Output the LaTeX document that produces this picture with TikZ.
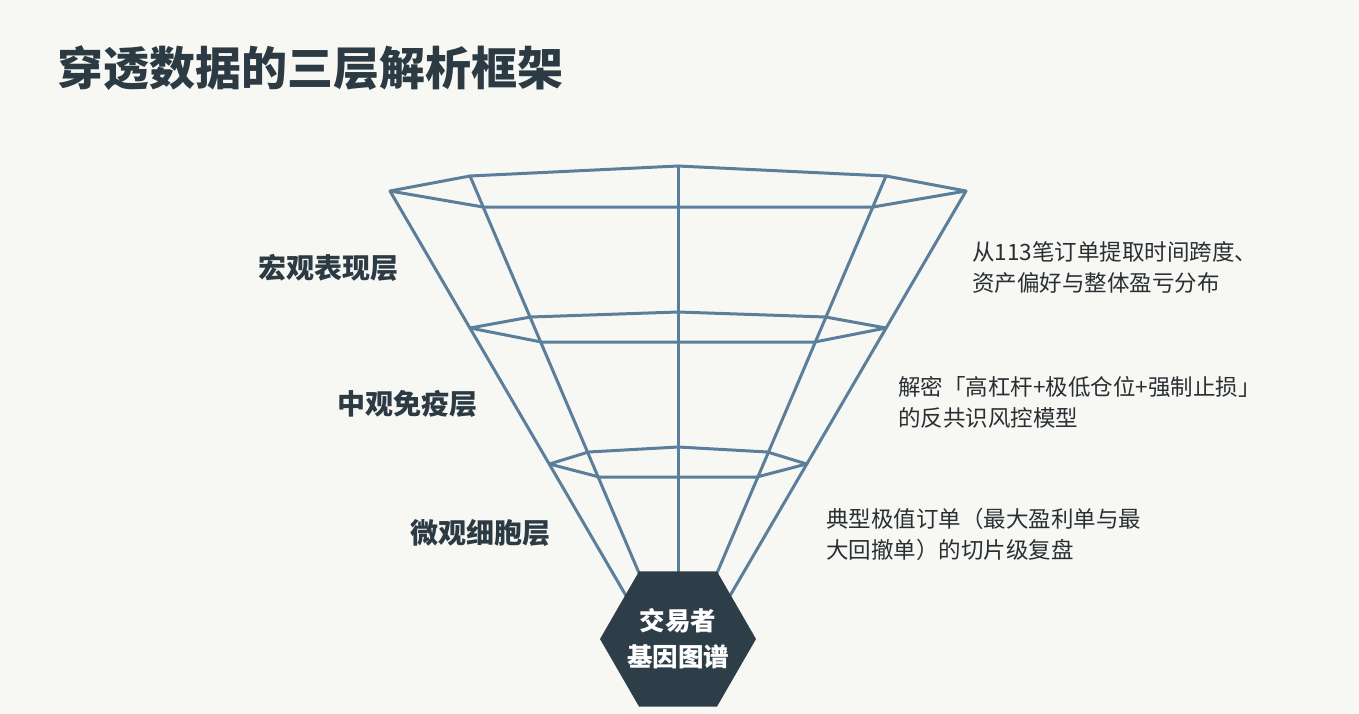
\documentclass[tikz,border=0pt]{standalone}
\usepackage{fontspec}
\setmainfont{Noto Sans CJK SC}
\usetikzlibrary{shapes.geometric}
\definecolor{bg}{HTML}{F7F8F4}
\definecolor{wire}{HTML}{5B7E9B}
\definecolor{ink}{HTML}{2C3A43}
\definecolor{desc}{HTML}{2A2F33}
\definecolor{hexfill}{HTML}{2E3E49}
\tikzset{
  wireline/.style={draw=wire,line width=3pt,line join=round,line cap=round},
  layerlabel/.style={anchor=west,inner sep=0pt,text=ink,font=\bfseries\fontsize{28}{32}\selectfont},
  desctext/.style={anchor=west,inner sep=0pt,text=desc,align=left,font=\fontsize{22.5}{31}\selectfont},
  titletext/.style={anchor=west,inner sep=0pt,text=ink,font=\bfseries\fontsize{46}{50}\selectfont},
  hexnode/.style={regular polygon,regular polygon sides=6,minimum size=156pt,inner sep=0pt,outer sep=0pt,
    fill=hexfill},
  hextext/.style={inner sep=0pt,text=white,align=center,font=\bfseries\fontsize{25.5}{36}\selectfont}
}
\begin{document}
\begin{tikzpicture}[x=1pt,y=-1pt]
\fill[bg] (0,0) rectangle (1359,714);
\useasboundingbox (0,0) rectangle (1359,714);

% top ring
\coordinate (tL) at (390,191);
\coordinate (tBL) at (470,176);
\coordinate (tBC) at (678,166);
\coordinate (tBR) at (886,176);
\coordinate (tR) at (966,191);
\coordinate (tFR) at (873,207);
\coordinate (tFC) at (678,207);
\coordinate (tFL) at (483,207);
% middle ring
\coordinate (mL) at (470,328);
\coordinate (mBL) at (530.5,317);
\coordinate (mBC) at (678,312);
\coordinate (mBR) at (825.5,317);
\coordinate (mR) at (886,328);
\coordinate (mFR) at (814.7,342);
\coordinate (mFC) at (678,342);
\coordinate (mFL) at (541.3,342);
% bottom ring
\coordinate (bL) at (549.4,464);
\coordinate (bBL) at (588.5,452);
\coordinate (bBC) at (678,447);
\coordinate (bBR) at (767.5,452);
\coordinate (bR) at (806.6,464);
\coordinate (bFR) at (756.8,477);
\coordinate (bFC) at (678,477);
\coordinate (bFL) at (599.2,477);
% ends of ribs
\coordinate (eL) at (646,630);
\coordinate (eR) at (710,630);
\coordinate (hTL) at (639,573);
\coordinate (hTR) at (717,573);
\coordinate (hTC) at (678,573);

% ribs
\draw[wireline] (tL) -- (eL);
\draw[wireline] (tBL) -- (hTL);
\draw[wireline] (tBC) -- (hTC);
\draw[wireline] (tBR) -- (hTR);
\draw[wireline] (tR) -- (eR);

% rings
\draw[wireline] (tL) -- (tBL) -- (tBC) -- (tBR) -- (tR) -- (tFR) -- (tFC) -- (tFL) -- cycle;
\draw[wireline] (mL) -- (mBL) -- (mBC) -- (mBR) -- (mR) -- (mFR) -- (mFC) -- (mFL) -- cycle;
\draw[wireline] (bL) -- (bBL) -- (bBC) -- (bBR) -- (bR) -- (bFR) -- (bFC) -- (bFL) -- cycle;

% core hexagon
\node[hexnode] (hex) at (678,639) {};
\node[hextext] (hexlabel) at (hex.center) {交易者\\基因图谱};

% title
\node[titletext] (title) at (57,68) {穿透数据的三层解析框架};

% layer labels
\node[layerlabel] (macro) at (258,268) {宏观表现层};
\node[layerlabel] (meso) at (337,404) {中观免疫层};
\node[layerlabel] (micro) at (410,533) {微观细胞层};

% descriptions
\node[desctext] (d1) at (972,267.5) {从113笔订单提取时间跨度、\\资产偏好与整体盈亏分布};
\node[desctext] (d2) at (898,402) {解密「高杠杆+极低仓位+强制止损」\\的反共识风控模型};
\node[desctext] (d3) at (826,534.5) {典型极值订单（最大盈利单与最\\大回撤单）的切片级复盘};
\end{tikzpicture}
\end{document}
